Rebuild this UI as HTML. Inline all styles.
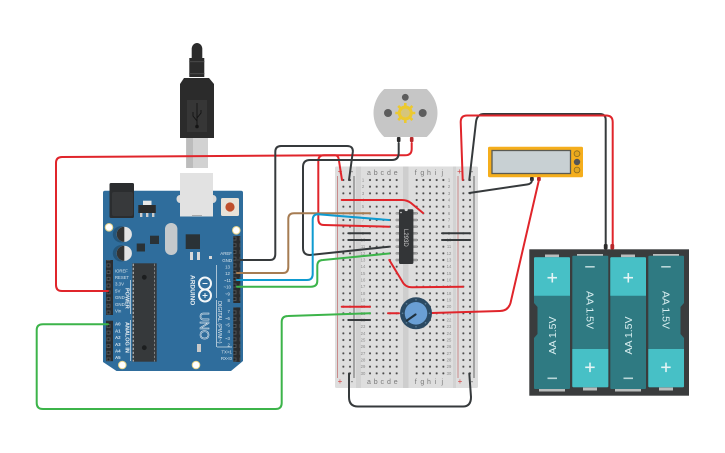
<!DOCTYPE html>
<html><head><meta charset="utf-8"><style>
html,body{margin:0;padding:0;background:#fff;width:725px;height:453px;overflow:hidden}
svg{display:block;font-family:"Liberation Sans",sans-serif}
.w{fill:none;stroke-width:2;stroke-linejoin:round;stroke-linecap:round}
.r{stroke:#e0252b}.k{stroke:#363a3c}.g{stroke:#3cb44a}.b{stroke:#0f9bd0}.n{stroke:#a67c52}
.pl{font-size:4.4px;fill:#d6e2ea}
.rn{font-size:4.2px;fill:#8a8a8a;text-anchor:middle}
.cl{font-size:7px;fill:#7a7a7a;text-anchor:middle}
.aa{font-size:10.5px;fill:#d8eef0;text-anchor:middle}
</style></head><body>
<svg width="725" height="453" viewBox="0 0 725 453">
<defs>
<pattern id="h" patternUnits="userSpaceOnUse" x="0" y="176.67" width="6.667" height="6.667"><circle cx="3.33" cy="3.33" r="1.05" fill="#4a4a4a"/></pattern>
<pattern id="pinp" patternUnits="userSpaceOnUse" x="0" y="0" width="7" height="6.72"><rect x="1.6" y="1.4" width="3.8" height="3.9" fill="#55595c"/><rect x="2.4" y="2.2" width="2.2" height="2.2" fill="#1f2224"/></pattern>
<pattern id="icp" patternUnits="userSpaceOnUse" x="0" y="263" width="3" height="4"><rect width="1.6" height="2.4" y="0.7" fill="#e8e8e8"/></pattern>
<clipPath id="mc"><rect x="370" y="89" width="72" height="48"/></clipPath>
</defs>

<!-- breadboard -->
<rect x="335" y="166.5" width="143" height="221.5" rx="1.5" fill="#dedede"/>
<rect x="356" y="166.5" width="5" height="221.5" fill="#d2d2d2"/>
<rect x="403" y="166.5" width="5.5" height="221.5" fill="#cecece"/>
<rect x="453" y="166.5" width="3" height="221.5" fill="#d2d2d2"/>
<line x1="337.5" y1="176" x2="337.5" y2="378" stroke="#c98a8a" stroke-width="1"/>
<line x1="354" y1="176" x2="354" y2="378" stroke="#6a6a6a" stroke-width="1"/>
<line x1="458" y1="176" x2="458" y2="378" stroke="#c98a8a" stroke-width="1"/>
<line x1="474" y1="176" x2="474" y2="378" stroke="#6a6a6a" stroke-width="1"/>
<g fill="url(#h)">
<rect x="339" y="176.67" width="13.4" height="200"/>
<rect x="366" y="176.67" width="33.4" height="200"/>
<rect x="412.4" y="176.67" width="33.4" height="200"/>
<rect x="459.4" y="176.67" width="13.4" height="200"/>
</g>
<g class="cl">
<text x="369" y="175">a</text><text x="375.7" y="175">b</text><text x="382.3" y="175">c</text><text x="389" y="175">d</text><text x="395.7" y="175">e</text>
<text x="415.7" y="175">f</text><text x="422.3" y="175">g</text><text x="429" y="175">h</text><text x="435.7" y="175">i</text><text x="442.3" y="175">j</text>
<text x="369" y="384">a</text><text x="375.7" y="384">b</text><text x="382.3" y="384">c</text><text x="389" y="384">d</text><text x="395.7" y="384">e</text>
<text x="415.7" y="384">f</text><text x="422.3" y="384">g</text><text x="429" y="384">h</text><text x="435.7" y="384">i</text><text x="442.3" y="384">j</text>
</g>
<g font-size="8" text-anchor="middle">
<text x="340" y="174" fill="#d04040">+</text><text x="352" y="174" fill="#555">-</text>
<text x="459.5" y="174" fill="#d04040">+</text><text x="472" y="174" fill="#555">-</text>
<text x="340" y="384" fill="#d04040">+</text><text x="352" y="384" fill="#555">-</text>
<text x="460" y="384" fill="#d04040">+</text><text x="472" y="384" fill="#555">-</text>
</g>
<g class="rn">
<text x="363" y="181.5">1</text><text x="363" y="188.2">2</text><text x="363" y="194.8">3</text><text x="363" y="201.5">4</text><text x="363" y="208.2">5</text><text x="363" y="214.8">6</text><text x="363" y="221.5">7</text><text x="363" y="228.2">8</text><text x="363" y="234.8">9</text><text x="363" y="241.5">10</text><text x="363" y="248.2">11</text><text x="363" y="254.8">12</text><text x="363" y="261.5">13</text><text x="363" y="268.2">14</text><text x="363" y="274.8">15</text><text x="363" y="281.5">16</text><text x="363" y="288.2">17</text><text x="363" y="294.8">18</text><text x="363" y="301.5">19</text><text x="363" y="308.2">20</text><text x="363" y="314.8">21</text><text x="363" y="321.5">22</text><text x="363" y="328.2">23</text><text x="363" y="334.8">24</text><text x="363" y="341.5">25</text><text x="363" y="348.2">26</text><text x="363" y="354.8">27</text><text x="363" y="361.5">28</text><text x="363" y="368.2">29</text><text x="363" y="374.8">30</text>
<text x="449" y="181.5">1</text><text x="449" y="188.2">2</text><text x="449" y="194.8">3</text><text x="449" y="201.5">4</text><text x="449" y="208.2">5</text><text x="449" y="214.8">6</text><text x="449" y="221.5">7</text><text x="449" y="228.2">8</text><text x="449" y="234.8">9</text><text x="449" y="241.5">10</text><text x="449" y="248.2">11</text><text x="449" y="254.8">12</text><text x="449" y="261.5">13</text><text x="449" y="268.2">14</text><text x="449" y="274.8">15</text><text x="449" y="281.5">16</text><text x="449" y="288.2">17</text><text x="449" y="294.8">18</text><text x="449" y="301.5">19</text><text x="449" y="308.2">20</text><text x="449" y="314.8">21</text><text x="449" y="321.5">22</text><text x="449" y="328.2">23</text><text x="449" y="334.8">24</text><text x="449" y="341.5">25</text><text x="449" y="348.2">26</text><text x="449" y="354.8">27</text><text x="449" y="361.5">28</text><text x="449" y="368.2">29</text><text x="449" y="374.8">30</text>
</g>

<!-- L293D -->
<g fill="#9a9a9a">
<rect x="396" y="212" width="21" height="2.6"/><rect x="396" y="218.7" width="21" height="2.6"/><rect x="396" y="225.4" width="21" height="2.6"/><rect x="396" y="232" width="21" height="2.6"/><rect x="396" y="238.7" width="21" height="2.6"/><rect x="396" y="245.4" width="21" height="2.6"/><rect x="396" y="252" width="21" height="2.6"/><rect x="396" y="258.7" width="21" height="2.6"/>
</g>
<rect x="399" y="209.3" width="14.4" height="54.7" rx="1.2" fill="#333537"/>
<circle cx="406.2" cy="209.5" r="1.6" fill="#dedede"/>
<circle cx="401" cy="212.5" r=".8" fill="#ddd"/>
<text x="0" y="0" transform="translate(404.2,229) rotate(90)" font-size="6" fill="#d0d0d0">L293D</text>

<!-- battery -->
<rect x="529.3" y="249.3" width="159.7" height="146.4" fill="#3a3c3d"/>
<g fill="#b9bcbc">
<rect x="545" y="254.5" width="14" height="3"/><rect x="577" y="254" width="26" height="2"/><rect x="621" y="254.5" width="14" height="3"/><rect x="653" y="254" width="26" height="2"/>
<rect x="539" y="389" width="26" height="2.5"/><rect x="583" y="387.5" width="14" height="3"/><rect x="615" y="389" width="26" height="2.5"/><rect x="659" y="387.5" width="14" height="3"/>
</g>
<g fill="#2f7a82">
<path d="M535,257.3H569Q570,257.3 570,258.3V388Q570,389 569,389H535Q534,389 534,388V338L537.5,334V307L534,303V258.3Q534,257.3 535,257.3Z"/>
<rect x="572.3" y="255.7" width="36" height="131.6" rx="1"/>
<rect x="610.3" y="257.3" width="35.7" height="131.7" rx="1"/>
<path d="M649.3,255.7H683Q684,255.7 684,256.7V303L680.5,307V334L684,338V386.3Q684,387.3 683,387.3H649.3Q648.3,387.3 648.3,386.3V256.7Q648.3,255.7 649.3,255.7Z"/>
</g>
<g fill="#47c0c6">
<path d="M534,295.7V258.3Q534,257.3 535,257.3H569Q570,257.3 570,258.3V295.7Z"/>
<path d="M572.3,349H608.3V386.3Q608.3,387.3 607.3,387.3H573.3Q572.3,387.3 572.3,386.3Z"/>
<path d="M610.3,295.7V258.3Q610.3,257.3 611.3,257.3H645Q646,257.3 646,258.3V295.7Z"/>
<path d="M648.3,349H684V386.3Q684,387.3 683,387.3H649.3Q648.3,387.3 648.3,386.3Z"/>
</g>
<g fill="#e4f4f5">
<rect x="547.5" y="276.9" width="9.5" height="1.6"/><rect x="551.5" y="273" width="1.6" height="9.5"/>
<rect x="623.5" y="276.9" width="9.5" height="1.6"/><rect x="627.5" y="273" width="1.6" height="9.5"/>
<rect x="585.2" y="366.5" width="9.5" height="1.6"/><rect x="589.2" y="362.6" width="1.6" height="9.5"/>
<rect x="661.2" y="366.5" width="9.5" height="1.6"/><rect x="665.2" y="362.6" width="1.6" height="9.5"/>
<g fill="#b9d6d8">
<rect x="547.5" y="377.5" width="9.5" height="1.6"/><rect x="623.5" y="377.5" width="9.5" height="1.6"/>
<rect x="585.2" y="266" width="9.5" height="1.6"/><rect x="661.2" y="266" width="9.5" height="1.6"/>
</g>
</g>
<text class="aa" transform="translate(555.8,335.5) rotate(-90)">AA 1.5V</text>
<text class="aa" transform="translate(631.8,335.5) rotate(-90)">AA 1.5V</text>
<text class="aa" transform="translate(586.4,310) rotate(90)">AA 1.5V</text>
<text class="aa" transform="translate(662.4,310) rotate(90)">AA 1.5V</text>

<!-- motor -->
<ellipse cx="405.5" cy="113" rx="32" ry="32" fill="#c6c6c6" clip-path="url(#mc)"/>
<circle cx="388" cy="113" r="4" fill="#5d5d5d"/><circle cx="422.7" cy="113" r="4" fill="#5d5d5d"/><circle cx="405.3" cy="97.3" r="3.4" fill="#5d5d5d"/>
<g stroke="#ecc92f" stroke-width="2.6">
<line x1="405.3" y1="103" x2="405.3" y2="123"/><line x1="395.3" y1="113" x2="415.3" y2="113"/>
<line x1="398.2" y1="105.9" x2="412.4" y2="120.1"/><line x1="412.4" y1="105.9" x2="398.2" y2="120.1"/>
</g>
<circle cx="405.3" cy="113" r="7.5" fill="#ecc92f"/><circle cx="405.3" cy="113" r="4.5" fill="#d5c57c"/>
<rect x="396.9" y="137" width="3.6" height="5" rx="1" fill="#2c2c2c"/><rect x="409.9" y="137" width="3.6" height="5" rx="1" fill="#b8292c"/>

<!-- meter -->
<rect x="488" y="146.7" width="95" height="30.6" rx="1.5" fill="#f5ae1c"/>
<rect x="492" y="150.5" width="78.5" height="23" fill="#c8d0d3" stroke="#5a5a52" stroke-width="1.3"/>
<circle cx="577" cy="153.7" r="2.9" fill="#e2a61f" stroke="#8a6b20" stroke-width=".8"/>
<circle cx="577" cy="162" r="3.2" fill="#555"/>
<circle cx="577" cy="170" r="2.9" fill="#e2a61f" stroke="#8a6b20" stroke-width=".8"/>
<rect x="530" y="177" width="3.8" height="4" rx="1" fill="#2c2c2c"/><rect x="537" y="177" width="3.8" height="4" rx="1" fill="#b8292c"/>

<!-- USB -->
<path d="M191.7,58V49a5.3,6 0 0 1 10.6,0V58Z" fill="#2b2b2b"/>
<rect x="189.3" y="58" width="15" height="19" fill="#2b2b2b"/>
<rect x="189.3" y="61" width="15" height="1.2" fill="#454545"/><rect x="189.3" y="73" width="15" height="1.2" fill="#454545"/>
<path d="M184,78H209L214,84V138H180V84Z" fill="#2b2b2b"/>
<rect x="187" y="100" width="20" height="32" fill="#363636"/>
<g stroke="#151515" stroke-width="1" fill="none"><path d="M197,103V126"/><path d="M197,121L193,116V112"/><path d="M197,118L201,113V110"/></g>
<circle cx="197" cy="126.5" r="1.8" fill="#151515"/>
<rect x="186" y="138" width="22" height="30" fill="#c9c9c9"/><rect x="186.5" y="138" width="8" height="30" fill="#bcbcbc"/><rect x="193" y="138" width="15" height="30" fill="#d2d2d2"/>

<!-- Arduino -->
<path d="M105,190.7H241Q243,190.7 243,192.7V361L231,371H116.5L103,362V192.7Q103,190.7 105,190.7Z" fill="#2f6d9c"/>
<rect x="109.5" y="183" width="24.5" height="35" rx="1.5" fill="#2b2d2f"/>
<rect x="112" y="192" width="21" height="24" rx="2" fill="#37393b"/>
<ellipse cx="180" cy="199" rx="3.5" ry="4" fill="#dadada"/><ellipse cx="213" cy="199" rx="3.5" ry="4" fill="#dadada"/>
<rect x="180" y="173" width="33" height="43.5" fill="#e2e2e2"/><rect x="192" y="215" width="10" height="1" fill="#aaa"/>
<rect x="221" y="198" width="18" height="18" rx="1.5" fill="#e8e2d8"/><circle cx="230" cy="207" r="4.6" fill="#bf4f2c"/>
<g fill="#fff" stroke="#e6d48a" stroke-width="1"><circle cx="109" cy="227.3" r="3.8"/><circle cx="236.3" cy="230.3" r="3.8"/><circle cx="122.3" cy="365" r="3.8"/><circle cx="196" cy="365" r="3.8"/></g>
<circle cx="121" cy="234.3" r="8.2" fill="#1f4b6c" opacity=".7"/><circle cx="121" cy="253.3" r="8.2" fill="#1f4b6c" opacity=".7"/>
<circle cx="124.3" cy="234.3" r="7.6" fill="#e4e4e4"/><path d="M124.3,226.7a7.6,7.6 0 0 0 0,15.2Z" fill="#333"/>
<circle cx="124.3" cy="253.3" r="7.6" fill="#e4e4e4"/><path d="M124.3,245.7a7.6,7.6 0 0 0 0,15.2Z" fill="#333"/>
<rect x="143" y="200.7" width="8.5" height="4.5" fill="#e8e8e8"/><rect x="138.3" y="205" width="17.5" height="8" fill="#2b2b2b"/>
<rect x="140" y="213" width="2.4" height="4" fill="#ccc"/><rect x="146" y="213" width="2.4" height="4" fill="#ccc"/><rect x="152" y="213" width="2.4" height="4" fill="#ccc"/>
<rect x="165" y="223" width="12.4" height="32" rx="6" fill="#c4c9cc"/>
<rect x="150" y="235.7" width="9" height="8.3" fill="#2a3236"/><rect x="185.7" y="234.3" width="14.3" height="14.7" fill="#2a3236"/>
<rect x="136.7" y="243.5" width="8.3" height="8" fill="#2a3236"/>
<rect x="132.3" y="263.3" width="24.4" height="98.4" fill="#36393b"/>
<rect x="132.8" y="263.5" width="1.8" height="98" fill="url(#icp)"/><rect x="154.2" y="263.5" width="1.8" height="98" fill="url(#icp)"/>
<circle cx="144.3" cy="277.3" r="2.4" fill="#1c1e1f"/><circle cx="144.3" cy="347.7" r="2.4" fill="#1c1e1f"/>
<rect x="190" y="252" width="3" height="8" fill="#d8d8d8"/><rect x="197" y="252" width="3" height="8" fill="#d8d8d8"/><rect x="209" y="256" width="3" height="3" fill="#d8d8d8"/>
<rect x="197" y="344" width="4" height="8" fill="#c8c8c8"/>
<rect x="233.3" y="236" width="7" height="67" fill="#2a2c2e"/><rect x="233.3" y="236" width="7" height="67" fill="url(#pinp)"/>
<rect x="233.3" y="307.4" width="7" height="54.5" fill="#2a2c2e"/><rect x="233.3" y="307.4" width="7" height="54.5" fill="url(#pinp)"/>
<rect x="106" y="260" width="7" height="55" fill="#2a2c2e"/><rect x="106" y="260" width="7" height="55" fill="url(#pinp)"/>
<rect x="106" y="320.7" width="7" height="40.5" fill="#2a2c2e"/><rect x="106" y="320.7" width="7" height="40.5" fill="url(#pinp)"/>
<g class="pl" text-anchor="end">
<text x="232" y="255.2">AREF</text><text x="232" y="261.8">GND</text><text x="230" y="268.5">13</text><text x="230" y="275.2">12</text><text x="231" y="282">~11</text><text x="231" y="288.6">~10</text><text x="230" y="295.3">~9</text><text x="230" y="302">8</text>
<text x="230" y="313">7</text><text x="230" y="319.8">~6</text><text x="230" y="326.5">~5</text><text x="230" y="333.2">4</text><text x="230" y="339.9">~3</text><text x="230" y="346.6">2</text><text x="232" y="353.3">TX&gt;1</text><text x="232" y="360">RX&lt;0</text>
</g>
<g class="pl">
<text x="115" y="272.3" font-size="4.2">IOREF</text><text x="115" y="279" font-size="4.2">RESET</text><text x="115" y="285.7">3.3V</text><text x="115" y="292.5">5V</text><text x="115" y="299.2">GND</text><text x="115" y="305.9">GND</text><text x="115" y="312.6">Vin</text>
<text x="115" y="325.7" font-weight="bold">A0</text><text x="115" y="332.4" font-weight="bold">A1</text><text x="115" y="339.1" font-weight="bold">A2</text><text x="115" y="345.8" font-weight="bold">A3</text><text x="115" y="352.5" font-weight="bold">A4</text><text x="115" y="359.2" font-weight="bold">A5</text>
</g>
<g fill="#e8eef2">
<text transform="translate(125.5,288) rotate(90)" font-size="5.5" font-weight="bold">POWER</text>
<text transform="translate(125.5,322) rotate(90)" font-size="5.5" font-weight="bold">ANALOG IN</text>
<text transform="translate(190.5,275) rotate(90)" font-size="6.5" font-weight="bold">ARDUINO</text>
<text transform="translate(218,301) rotate(90)" font-size="5.5">DIGITAL (PWM~)</text>
<text transform="translate(200,312) rotate(90)" font-size="12.5" fill="none" stroke="#e8eef2" stroke-width=".5">UNO</text>
</g>
<g stroke="#dfe8ee" stroke-width=".7"><line x1="130.5" y1="280" x2="130.5" y2="314"/><line x1="130.5" y1="320" x2="130.5" y2="361"/><line x1="216.5" y1="265" x2="216.5" y2="298"/><line x1="216.5" y1="300" x2="216.5" y2="347"/><line x1="217" y1="347" x2="232" y2="347"/></g>
<g fill="none" stroke="#f2f6f8" stroke-width="2"><circle cx="205" cy="283.5" r="6"/><circle cx="205" cy="295.5" r="6"/></g>
<g stroke="#f2f6f8" stroke-width="1"><line x1="202.5" y1="283.5" x2="207.5" y2="283.5"/><line x1="202.5" y1="295.5" x2="207.5" y2="295.5"/><line x1="205" y1="293" x2="205" y2="298"/></g>

<!-- wires -->
<g class="w">
<path class="r" d="M108,291H62Q56,291 56,285V163Q56,157 62,157L335,155.3Q338,155.3 338.7,159L342,180"/>
<path class="r" d="M411.7,143V149Q411.7,155.3 405,155.3H324Q318.3,155.3 318.3,161V219Q318.3,225 324,225L389,226.7"/>
<path class="k" d="M398.7,143V153Q398.7,160 392,160H310Q303,160 303,167V248Q303,255 310,255L389,246.7"/>
<path class="k" d="M237,260H270Q275.3,260 275.3,254V152Q275.3,146 281,146H347Q353.3,146 352.8,152L349,180"/>
<path class="n" d="M237,273H283Q288.3,273 288.3,267V219Q288.3,213.3 294,213.3H370"/>
<path class="b" d="M237,280H307Q312.7,280 312.7,274V220Q312.7,214.3 318,214.3L389,220"/>
<path class="g" d="M237,286.7H311Q317.3,286.7 317.3,281V266Q317.3,260 323,260L389,253.5"/>
<path class="g" d="M108,324.3H43Q36.7,324.3 36.7,330V403Q36.7,409 43,409H275.5Q281.7,409 281.7,403V322Q281.7,316 288,316L370,313.3"/>
<path class="k" d="M349,373.5V397Q349,406.5 358,406.5H463Q471,406.5 471,397L469.3,373.5"/>
<path class="r" d="M341.7,200H402Q407,200 411,203L423,213"/>
<path class="k" d="M348.3,233.3H370M348.3,240H370M442,233.3H470M442,240H470M348.3,320H370"/>
<path class="r" d="M341.7,306.7H370M388,313.3H399"/>
<path class="r" d="M389.3,260L402,281Q405,287.3 412,287.3L463,286.7"/>
<path class="r" d="M432,313L500,311Q508,311 510.5,303L538.7,181"/>
<path class="k" d="M469.3,193L527,184.5Q532,183.8 532,180"/>
<path class="k" d="M469.3,180L476,122Q477,114 484,114H600Q605.7,114 605.7,120V245"/>
<path class="r" d="M462.7,180L460.7,122Q460.7,115.5 467,115.5H606Q612.7,115.5 612.7,122V245"/>
</g>
<rect x="603.8" y="244" width="3.8" height="5.5" rx="1.2" fill="#2c2c2c"/><rect x="610.4" y="244" width="3.8" height="5.5" rx="1.2" fill="#b8292c"/>

<!-- potentiometer -->
<circle cx="416" cy="313.3" r="16" fill="#2b4a63"/>
<circle cx="416" cy="313.3" r="11.3" fill="#6a9fd4"/>
<g fill="#5d7f99"><circle cx="416" cy="299.8" r=".8"/><circle cx="429.5" cy="313.3" r=".8"/><circle cx="416" cy="326.8" r=".8"/><circle cx="402.5" cy="313.3" r=".8"/><circle cx="425.5" cy="303.8" r=".8"/><circle cx="425.5" cy="322.8" r=".8"/><circle cx="406.5" cy="303.8" r=".8"/><circle cx="406.5" cy="322.8" r=".8"/></g>
<line x1="415.5" y1="314.5" x2="407" y2="320.5" stroke="#20323f" stroke-width="2.2" stroke-linecap="round"/>
</svg>
</body></html>
